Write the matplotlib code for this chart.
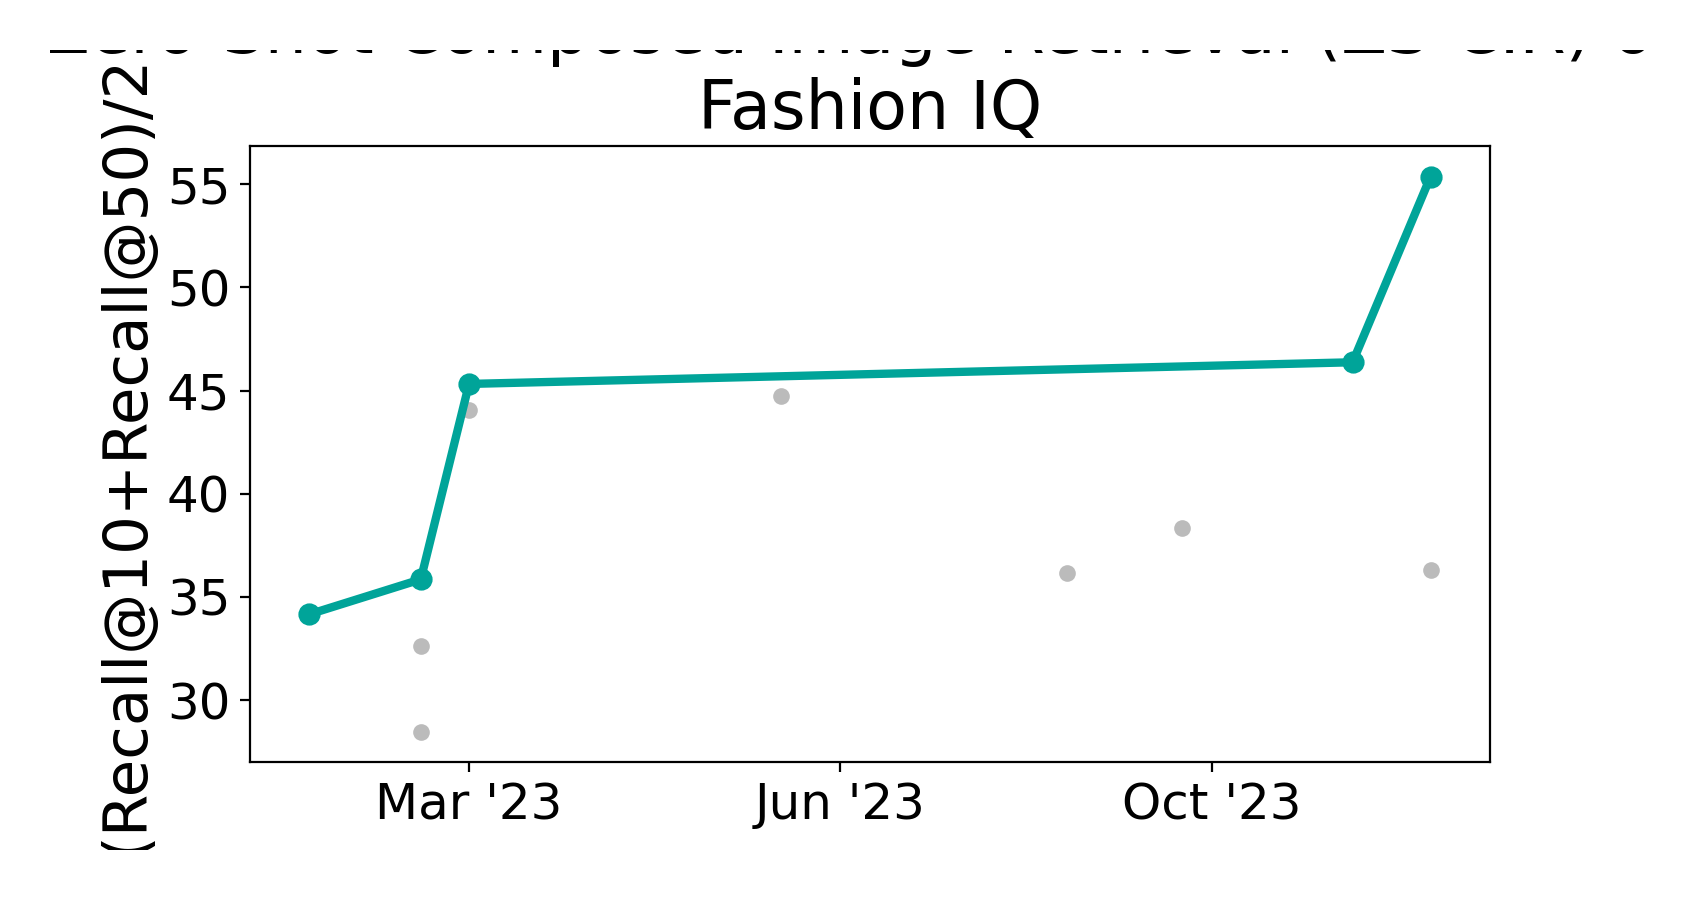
import datetime as dt
import matplotlib
matplotlib.use("Agg")
import matplotlib.pyplot as plt
import matplotlib.dates as mdates
from matplotlib.transforms import Bbox, TransformedBbox

# State-of-the-art line
sota_dates = ["2023-02-06", "2023-03-08", "2023-03-21", "2023-11-14", "2023-12-05"]
sota_values = [34.16, 35.85, 45.32, 46.37, 55.37]

# Other methods
other_dates = ["2023-03-08", "2023-03-08", "2023-03-21", "2023-06-13",
               "2023-08-29", "2023-09-29", "2023-12-05"]
other_values = [32.63, 28.47, 44.05, 44.74, 36.16, 38.32, 36.32]

tick_dates = ["2023-03-21", "2023-06-29", "2023-10-07"]

title = "Zero-Shot Composed Image Retrieval (ZS-CIR) on\nFashion IQ"
ylabel = "(Recall@10+Recall@50)/2"

def to_dt(lst):
    return [dt.datetime.strptime(s, "%Y-%m-%d") for s in lst]

W, H = 1700, 900
PAD = 50
fig = plt.figure(figsize=(W / 200, H / 200), dpi=200)
inner_w, inner_h = W - 2 * PAD, H - 2 * PAD
ax = fig.add_axes([(PAD + 0.125 * inner_w) / W, (PAD + 0.11 * inner_h) / H,
                   0.775 * inner_w / W, 0.77 * inner_h / H])

ax.scatter(to_dt(other_dates), other_values, s=36, color="#bbbbbb", zorder=2, linewidths=0)
ax.plot(to_dt(sota_dates), sota_values, color="#00a499", lw=3, marker="o",
        markersize=7, zorder=3)

ax.set_xticks(to_dt(tick_dates))
ax.xaxis.set_major_formatter(mdates.DateFormatter("%b '%y"))
ax.tick_params(labelsize=18)
ax.set_ylim(27.0, 56.85)
ax.set_xlim(dt.datetime(2023, 1, 21), dt.datetime(2023, 12, 21))
t = ax.set_title(title, fontsize=24)
yl = ax.set_ylabel(ylabel, fontsize=22)

clip = TransformedBbox(Bbox([[PAD / W, PAD / H], [1 - PAD / W, 1 - PAD / H]]),
                       fig.transFigure)
for txt in (t, yl):
    txt.set_clip_box(clip)
    txt.set_clip_on(True)

fig.savefig("out.png", dpi=200)
